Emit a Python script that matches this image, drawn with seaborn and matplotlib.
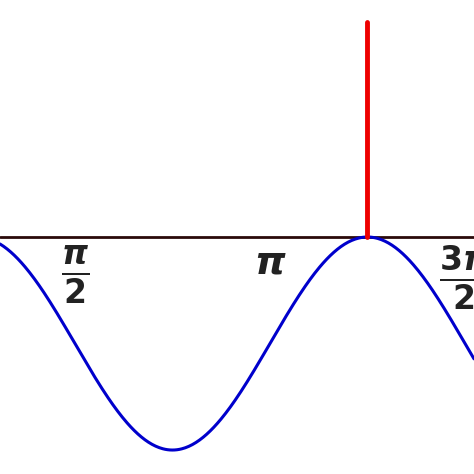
import numpy as np
import matplotlib
matplotlib.use("Agg")
import matplotlib.pyplot as plt
import seaborn as sns

sns.set_theme(style="white")

# Curve: y = sin(2x) - 1, sampled over the visible window
x_start, x_end = 0.308 * np.pi, 1.523 * np.pi
x_vals = np.linspace(x_start, x_end, 400)
y_vals = np.sin(2 * x_vals) - 1

# Spike at the curve's peak
spike_x = [1.25 * np.pi, 1.25 * np.pi]
spike_y = [0.0, 2.02]

tick_pos = [np.pi / 2, np.pi, 3 * np.pi / 2]
tick_labels = [r"$\frac{\boldsymbol{\pi}}{\mathbf{2}}$", r"$\boldsymbol{\pi}$",
               r"$\frac{\mathbf{3}\boldsymbol{\pi}}{\mathbf{2}}$"]
tick_sizes = [34, 28, 34]

fig, ax = plt.subplots(figsize=(4.74, 4.74), dpi=100)
fig.subplots_adjust(left=0, right=1, bottom=0, top=1)

ax.axhline(0, color="#2a0a0a", linewidth=2)
sns.lineplot(x=x_vals, y=y_vals, color="#0000cc", linewidth=2.2, ax=ax)
ax.plot(spike_x, spike_y, color="#ee0000", linewidth=3.5, solid_capstyle="round")

for pos, lab, size in zip(tick_pos, tick_labels, tick_sizes):
    ax.text(pos, -0.06, lab, ha="center", va="top", fontsize=size,
            color="#222222")

ax.set_xlim(x_start, x_end)
ax.set_ylim(-2.225, 2.225)
ax.axis("off")

plt.savefig("out.png", dpi=100)
plt.close()
